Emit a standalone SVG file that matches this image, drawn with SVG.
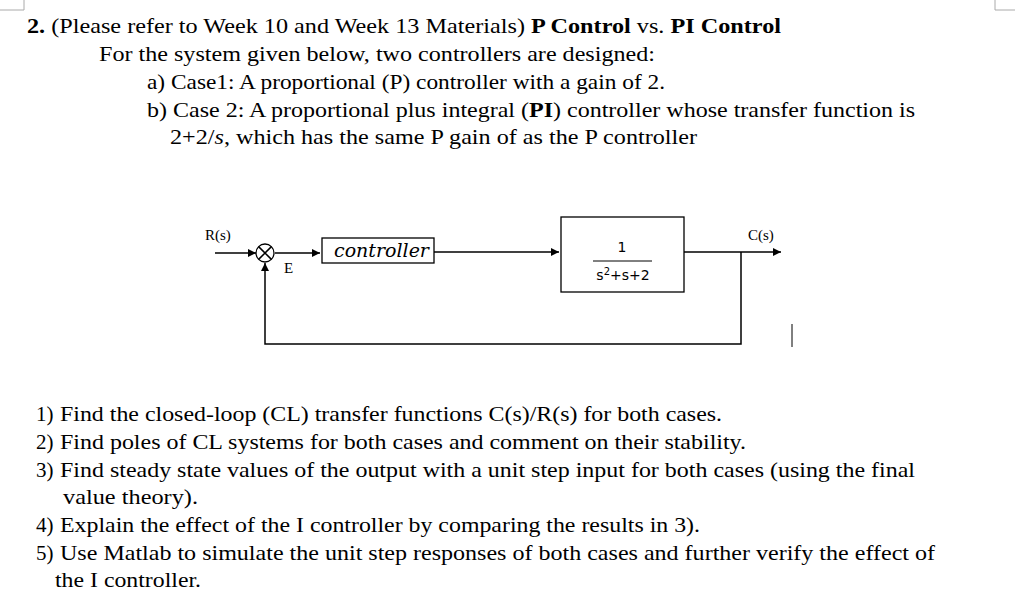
<svg xmlns="http://www.w3.org/2000/svg" width="1015" height="603" viewBox="0 0 1015 603">
<style>
text{font-family:"Liberation Serif",serif;font-size:21px;fill:#000}
.s{font-size:15px}
.c{font-family:"Cambria Math","DejaVu Serif",serif;font-style:italic;font-size:19px}
.m{font-family:"Cambria Math","DejaVu Sans",sans-serif;font-size:14px}
.l{stroke:#000;stroke-width:1.5;fill:none}
.b{stroke:#000;stroke-width:1.3;fill:#fff}
</style>
<defs><marker id="a" markerWidth="8" markerHeight="8" refX="8" refY="4" orient="auto" markerUnits="userSpaceOnUse"><path d="M0,0L8,4L0,8z"/></marker></defs>
<rect width="1015" height="603" fill="#fff"/>
<path d="M24,0V10H0M995,0V10H1015" stroke="#aaa" fill="none"/>
<text x="27" y="33" textLength="754" lengthAdjust="spacingAndGlyphs"><tspan font-weight="bold">2.</tspan> (Please refer to Week 10 and Week 13 Materials) <tspan font-weight="bold">P Control</tspan> vs. <tspan font-weight="bold">PI Control</tspan></text>
<text x="99" y="61" textLength="556" lengthAdjust="spacingAndGlyphs">For the system given below, two controllers are designed:</text>
<text x="147" y="89" textLength="518" lengthAdjust="spacingAndGlyphs">a) Case1: A proportional (P) controller with a gain of 2.</text>
<text x="147" y="117" textLength="768" lengthAdjust="spacingAndGlyphs">b) Case 2: A proportional plus integral (<tspan font-weight="bold">PI</tspan>) controller whose transfer function is</text>
<text x="170" y="144" textLength="527" lengthAdjust="spacingAndGlyphs">2+2/<tspan font-style="italic">s</tspan>, which has the same P gain of as the P controller</text>
<g id="connectors">
<path class="l" d="M215,253H256" marker-end="url(#a)"/>
<path class="l" d="M275,253H320" marker-end="url(#a)"/>
<path class="l" d="M434,252H559" marker-end="url(#a)"/>
<path class="l" d="M684,252H781" marker-end="url(#a)"/>
<path class="l" d="M741,252V344H265V263" marker-end="url(#a)"/>
<path d="M792,324V347" stroke="#000"/>
</g>
<g id="sum"><circle class="b" cx="265" cy="253" r="9"/><path class="l" d="M258.6,246.6L271.4,259.4M271.4,246.6L258.6,259.4" stroke-width="1.2"/></g>
<text class="s" x="205" y="240">R(s)</text>
<text class="s" x="284" y="273">E</text>
<g id="controller"><rect class="b" x="322" y="238" width="112" height="25"/><text class="c" x="334" y="257">controller</text></g>
<g id="plant"><rect class="b" x="561" y="217" width="123" height="75"/><text class="m" x="622" y="252" text-anchor="middle">1</text><path d="M593,261H652" stroke="#000"/><text class="m" x="623" y="280" text-anchor="middle">s<tspan dy="-5" font-size="10">2</tspan><tspan dy="5">+s+2</tspan></text></g>
<text class="s" x="748" y="240">C(s)</text>
<text x="36" y="421">1)</text><text x="60" y="421" textLength="662" lengthAdjust="spacingAndGlyphs">Find the closed-loop (CL) transfer functions C(s)/R(s) for both cases.</text>
<text x="36" y="449">2)</text><text x="60" y="449" textLength="686" lengthAdjust="spacingAndGlyphs">Find poles of CL systems for both cases and comment on their stability.</text>
<text x="36" y="477">3)</text><text x="60" y="477" textLength="855" lengthAdjust="spacingAndGlyphs">Find steady state values of the output with a unit step input for both cases (using the final</text>
<text x="63" y="504" textLength="135" lengthAdjust="spacingAndGlyphs">value theory).</text>
<text x="36" y="532">4)</text><text x="60" y="532" textLength="640" lengthAdjust="spacingAndGlyphs">Explain the effect of the I controller by comparing the results in 3).</text>
<text x="36" y="560">5)</text><text x="60" y="560" textLength="875" lengthAdjust="spacingAndGlyphs">Use Matlab to simulate the unit step responses of both cases and further verify the effect of</text>
<text x="55" y="587" textLength="146" lengthAdjust="spacingAndGlyphs">the I controller.</text>
</svg>
